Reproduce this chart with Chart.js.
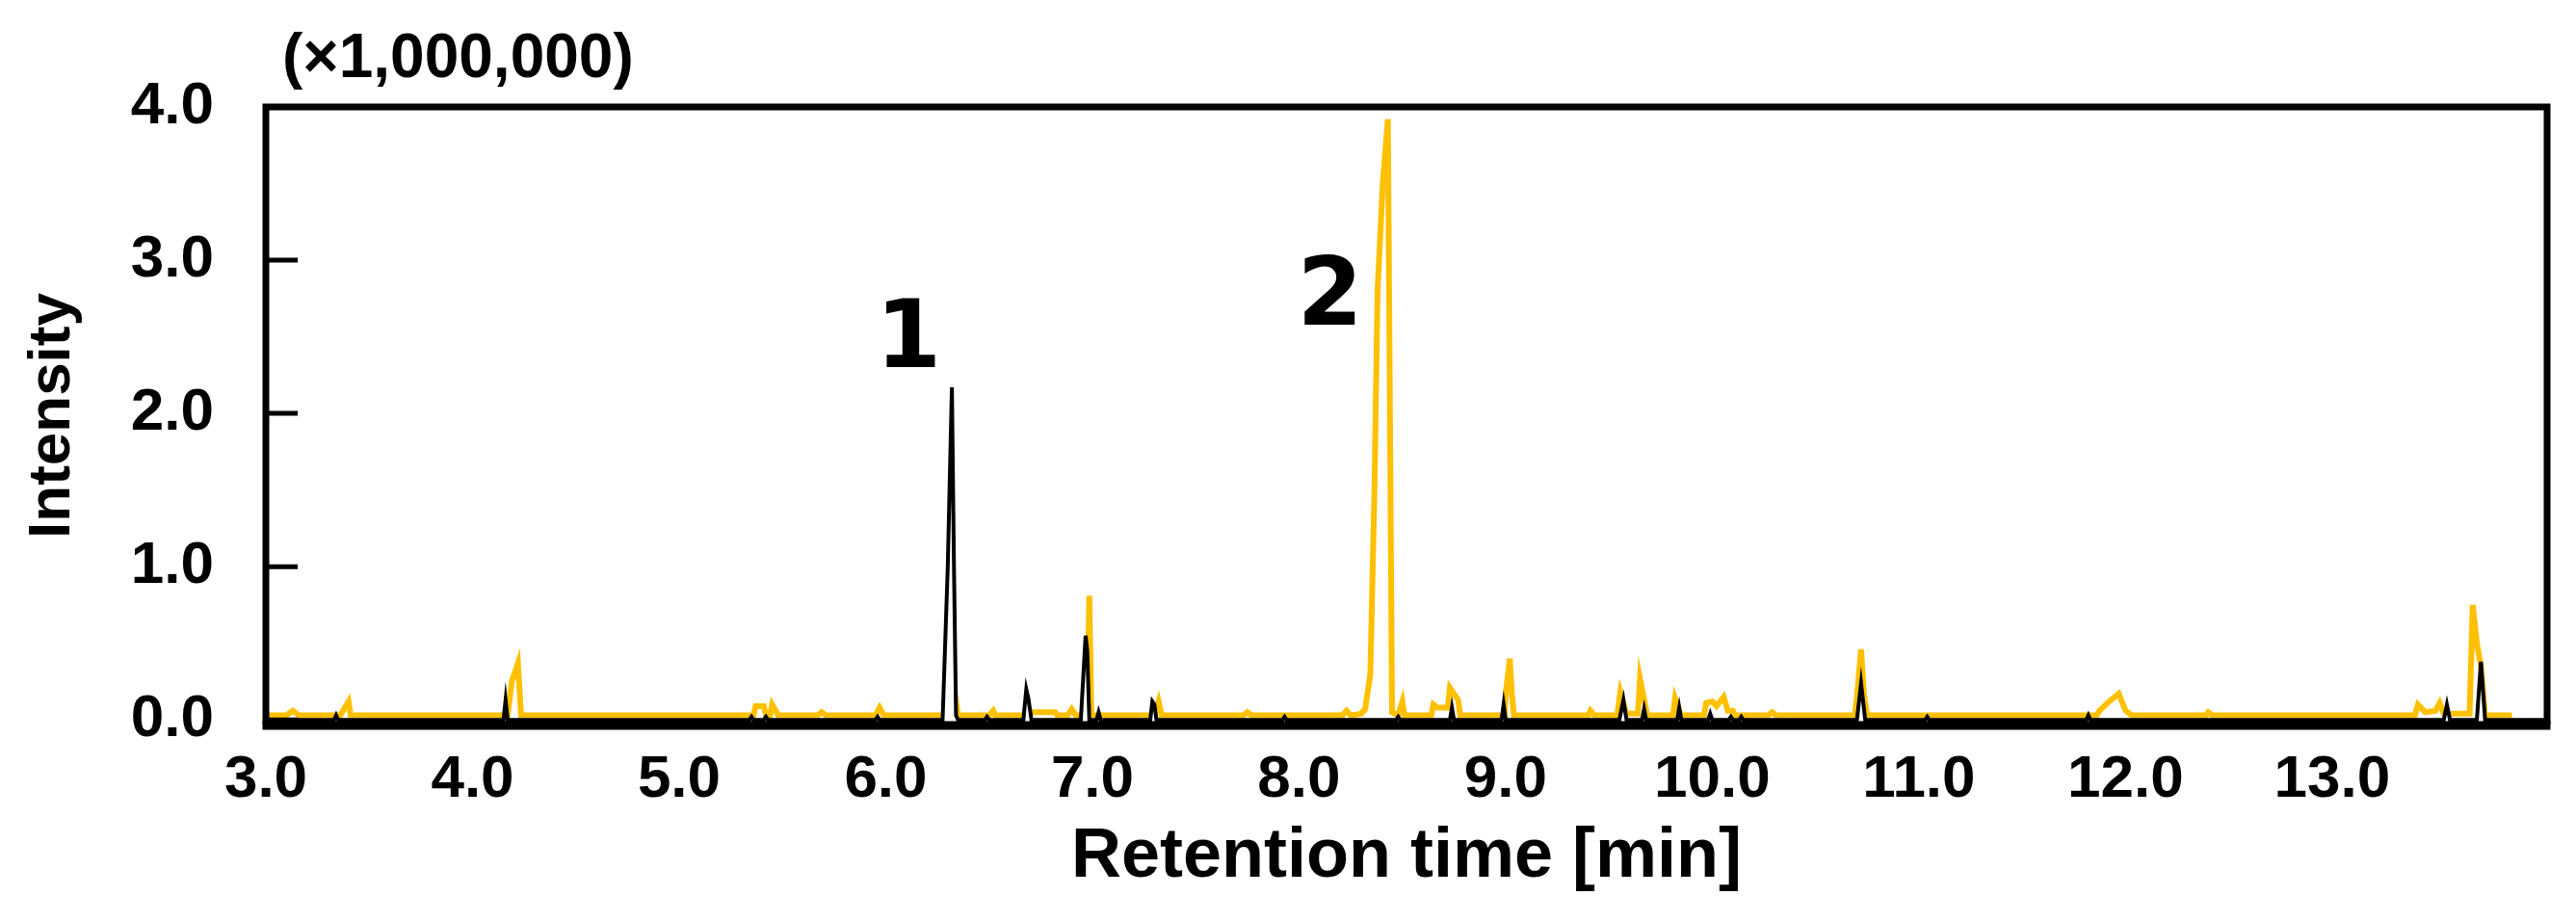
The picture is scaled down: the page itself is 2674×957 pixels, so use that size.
<!DOCTYPE html>
<html>
<head>
<meta charset="utf-8">
<title>Chromatogram</title>
<script src="https://cdn.jsdelivr.net/npm/chart.js@4.4.1/dist/chart.umd.min.js"></script>
<style>
  html, body { margin: 0; padding: 0; background: #fff; }
  #wrap { width: 2674px; height: 957px; position: relative; }
</style>
</head>
<body>
<div id="wrap"><canvas id="chromChart"></canvas></div>
<script>
// retention time [min] / intensity (x1,000,000)
const yellowTimes = [
  3.00, 3.10, 3.13, 3.16, 3.36, 3.40, 3.41,
  4.17, 4.19, 4.22, 4.235,
  5.36, 5.37, 5.41, 5.42, 5.44, 5.45, 5.48, 5.67, 5.69, 5.71, 5.95, 5.97, 5.99,
  6.32, 6.34, 6.35, 6.50, 6.52, 6.53, 6.69, 6.70, 6.82, 6.83, 6.88, 6.90, 6.92, 6.975, 6.985, 6.995,
  7.30, 7.32, 7.335, 7.73, 7.75, 7.77,
  8.21, 8.23, 8.25, 8.30, 8.32, 8.345, 8.365, 8.38, 8.405, 8.43, 8.44, 8.45,
  8.48, 8.50, 8.51, 8.64, 8.65, 8.67, 8.72, 8.73, 8.77, 8.78,
  8.995, 9.00, 9.02, 9.03, 9.04, 9.40, 9.41, 9.43,
  9.54, 9.555, 9.585, 9.64, 9.65, 9.685, 9.81, 9.82, 9.84, 9.85,
  9.96, 9.97, 10.00, 10.02, 10.055, 10.075, 10.10, 10.11, 10.27, 10.29, 10.31,
  10.69, 10.70, 10.72, 10.735, 10.75,
  11.86, 11.874, 11.92, 11.967, 12.00, 12.03, 12.39, 12.40, 12.42,
  13.40, 13.415, 13.45, 13.50, 13.52, 13.54, 13.665, 13.68, 13.70, 13.72, 13.74, 13.87
];
const yellowIntensity = [
  0.03, 0.03, 0.06, 0.03, 0.03, 0.12, 0.03,
  0.03, 0.25, 0.37, 0.03,
  0.03, 0.09, 0.09, 0.03, 0.03, 0.10, 0.03, 0.03, 0.05, 0.03, 0.03, 0.08, 0.03,
  0.03, 0.12, 0.03, 0.03, 0.06, 0.03, 0.03, 0.05, 0.05, 0.03, 0.03, 0.07, 0.03, 0.03, 0.81, 0.03,
  0.03, 0.12, 0.03, 0.03, 0.05, 0.03,
  0.03, 0.06, 0.03, 0.04, 0.07, 0.30, 1.50, 2.80, 3.50, 3.92, 2.00, 0.05,
  0.03, 0.12, 0.03, 0.03, 0.10, 0.08, 0.08, 0.21, 0.13, 0.03,
  0.03, 0.17, 0.40, 0.17, 0.03, 0.03, 0.06, 0.03,
  0.03, 0.18, 0.04, 0.04, 0.27, 0.03, 0.03, 0.14, 0.06, 0.03,
  0.03, 0.11, 0.12, 0.09, 0.15, 0.06, 0.06, 0.03, 0.03, 0.05, 0.03,
  0.03, 0.15, 0.46, 0.15, 0.03,
  0.03, 0.06, 0.12, 0.17, 0.06, 0.03, 0.03, 0.05, 0.03,
  0.03, 0.10, 0.05, 0.06, 0.11, 0.04, 0.04, 0.75, 0.50, 0.35, 0.03, 0.03
];
const blackTimes = [
  3.00, 3.33, 3.34, 3.35, 4.15, 4.16, 4.17,
  5.34, 5.35, 5.36, 5.41, 5.42, 5.43, 5.95, 5.96, 5.97,
  6.275, 6.30, 6.32, 6.33, 6.34, 6.35, 6.48, 6.49, 6.50,
  6.666, 6.68, 6.69, 6.705, 6.944, 6.967, 6.975, 6.985,
  7.02, 7.03, 7.04, 7.28, 7.29, 7.30, 7.31, 7.92, 7.93, 7.94,
  8.47, 8.48, 8.49, 8.73, 8.74, 8.75, 8.98, 8.99, 9.00,
  9.55, 9.57, 9.585, 9.66, 9.67, 9.68, 9.83, 9.84, 9.85,
  9.98, 9.99, 10.00, 10.08, 10.09, 10.10, 10.13, 10.14, 10.15,
  10.70, 10.72, 10.74, 11.03, 11.04, 11.05, 11.81, 11.82, 11.83,
  13.54, 13.555, 13.57, 13.70, 13.72, 13.74, 14.04
];
const blackIntensity = [
  0, 0, 0.03, 0, 0, 0.13, 0,
  0, 0.02, 0, 0, 0.02, 0, 0, 0.02, 0,
  0, 1.00, 2.17, 1.00, 0.03, 0, 0, 0.02, 0,
  0, 0.20, 0.14, 0, 0, 0.55, 0.45, 0,
  0, 0.05, 0, 0, 0.12, 0.10, 0, 0, 0.02, 0,
  0, 0.02, 0, 0, 0.08, 0, 0, 0.10, 0,
  0, 0.13, 0, 0, 0.07, 0, 0, 0.08, 0,
  0, 0.04, 0, 0, 0.02, 0, 0, 0.02, 0,
  0, 0.24, 0, 0, 0.02, 0, 0, 0.03, 0,
  0, 0.10, 0, 0, 0.38, 0, 0
];
const xTickValues = [3, 4, 5, 6, 7, 8, 9, 10, 11, 12, 13];
const yTickValues = [0, 1, 2, 3, 4];
const peakNames = ["1", "2"];
const peakTimes = [6.11, 8.15];
const peakHeights = [2.46, 2.74];
const scaleNote = "(×1,000,000)";

const sansBold = '"Liberation Sans", Arial, sans-serif';

const framePlugin = {
    id: "frame",
    afterDatasetsDraw(chart) {
        const ctx = chart.ctx;
        const a = chart.chartArea;
        const yScale = chart.scales.y;
        ctx.save();
        ctx.strokeStyle = "#000";

        // short inward ticks on the intensity axis
        ctx.lineWidth = 5;
        yScale.ticks.forEach(t => {
            const py = yScale.getPixelForValue(t.value);
            ctx.beginPath();
            ctx.moveTo(a.left, py);
            ctx.lineTo(a.left + 33, py);
            ctx.stroke();
        });

        ctx.lineWidth = 7;
        ctx.beginPath();
        ctx.moveTo(a.left, a.bottom);
        ctx.lineTo(a.left, a.top);
        ctx.lineTo(a.right, a.top);
        ctx.lineTo(a.right, a.bottom);
        ctx.stroke();
        ctx.lineWidth = 9;
        ctx.beginPath();
        ctx.moveTo(a.left - 3.5, a.bottom + 1);
        ctx.lineTo(a.right + 3.5, a.bottom + 1);
        ctx.stroke();

        // peak numbers
        ctx.fillStyle = "#000";
        ctx.font = 'bold 98px "DejaVu Sans", sans-serif';
        ctx.textAlign = "center";
        ctx.textBaseline = "middle";
        peakNames.forEach((name, i) => {
            ctx.fillText(name, chart.scales.x.getPixelForValue(peakTimes[i]), yScale.getPixelForValue(peakHeights[i]));
        });

        // intensity multiplier above the axis
        ctx.font = "bold 64px " + sansBold;
        ctx.textAlign = "left";
        ctx.textBaseline = "alphabetic";
        ctx.fillText(scaleNote, a.left + 17, 80);
        ctx.restore();
    }
};

const ctx = document.getElementById("chromChart");
new Chart(ctx, {
    type: "line",
    data: {
        datasets: [
            {
                label: "black",
                data: blackTimes.map((t, i) => ({ x: t, y: blackIntensity[i] })),
                borderColor: "#000",
                borderWidth: 4,
                pointRadius: 0,
                tension: 0,
                fill: "origin",
                backgroundColor: "#fff"
            },
            {
                label: "yellow",
                data: yellowTimes.map((t, i) => ({ x: t, y: yellowIntensity[i] })),
                borderColor: "#FFC000",
                borderWidth: 6,
                pointRadius: 0,
                tension: 0,
                fill: false
            }
        ]
    },
    options: {
        responsive: true,
        maintainAspectRatio: false,
        animation: false,
        devicePixelRatio: 1,
        layout: { padding: { top: 111, right: 30, left: 0, bottom: 0 } },
        plugins: {
            legend: { display: false },
            tooltip: { enabled: false }
        },
        scales: {
            x: {
                type: "linear",
                min: 3.0,
                max: 14.04,
                afterBuildTicks: s => { s.ticks = xTickValues.map(v => ({ value: v })); },
                afterFit: s => { s.height = 205; },
                grid: { display: false },
                border: { display: false },
                ticks: {
                    color: "#000",
                    font: { family: sansBold, size: 62, weight: "bold" },
                    padding: 13,
                    maxRotation: 0,
                    autoSkip: false,
                    callback: v => v.toFixed(1)
                },
                title: {
                    display: true,
                    text: "Retention time [min]",
                    color: "#000",
                    font: { family: sansBold, size: 72, weight: "bold" },
                    padding: { top: 0, bottom: 24 }
                }
            },
            y: {
                type: "linear",
                min: -0.03,
                max: 4.0,
                afterBuildTicks: s => { s.ticks = yTickValues.map(v => ({ value: v })); },
                afterFit: s => { s.width = 276; },
                grid: { display: false },
                border: { display: false },
                ticks: {
                    color: "#000",
                    font: { family: sansBold, size: 62, weight: "bold" },
                    padding: 46,
                    callback: v => v.toFixed(1)
                },
                title: {
                    display: true,
                    text: "Intensity",
                    color: "#000",
                    font: { family: sansBold, size: 62, weight: "bold" },
                    padding: { top: 18, bottom: 0 }
                }
            }
        }
    },
    plugins: [framePlugin]
});
</script>
</body>
</html>
